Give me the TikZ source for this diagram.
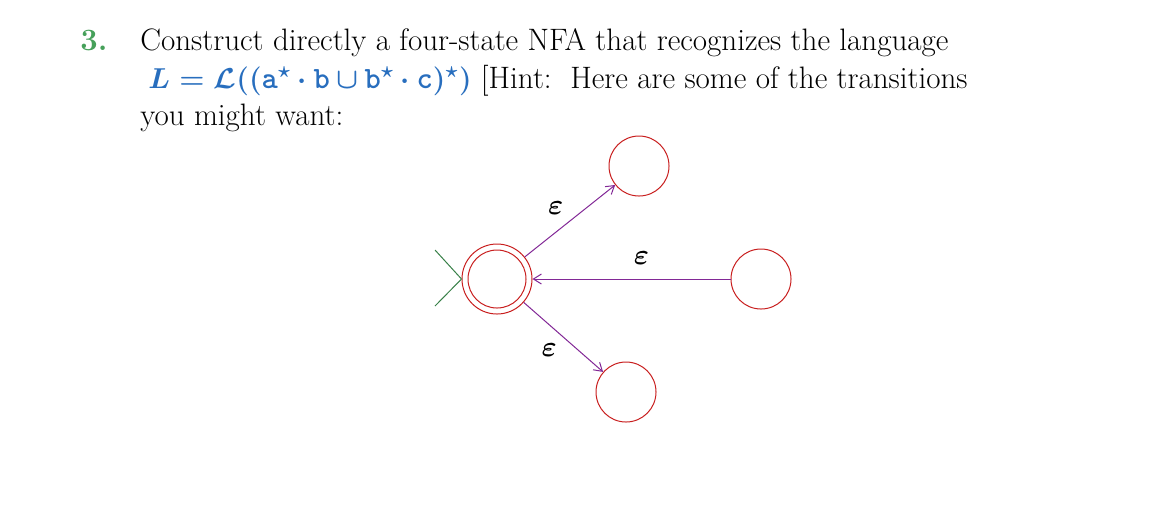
\documentclass[tikz,border=0pt]{standalone}
\usepackage{amsmath,amssymb}
\usetikzlibrary{arrows.meta}
\definecolor{grn}{RGB}{70,160,90}
\definecolor{blu}{RGB}{40,110,190}
\definecolor{stred}{RGB}{200,30,30}
\definecolor{purp}{RGB}{130,40,150}
\tikzset{state/.style={circle,draw=stred,line width=0.5pt,minimum size=30pt,inner sep=0pt},
 trans/.style={draw=purp,line width=0.5pt,-{Straight Barb[length=4pt,width=5pt]}},
 lbl/.style={font=\fontsize{15}{17}\selectfont}}
\newcommand{\formula}{\textcolor{blu}{$\boldsymbol{L=\mathcal{L}((}\texttt{\textbf{a}}^{\boldsymbol\star}\boldsymbol\cdot\texttt{\textbf{b}}\boldsymbol\cup\texttt{\textbf{b}}^{\boldsymbol\star}\boldsymbol\cdot\texttt{\textbf{c}}\boldsymbol{)^\star)}$}}
\begin{document}
\begin{tikzpicture}[x=0.5pt,y=-0.5pt]
\useasboundingbox (0,0) rectangle (1159,511);
\fontsize{15.5}{18.75}\selectfont
\node[anchor=base west,inner sep=0,text=grn,font=\bfseries\fontsize{15.5}{18.75}\selectfont] (n) at (80,50) {3.};
\node[anchor=base west,inner sep=0] (l1) at (140,50) {Construct directly a four-state NFA that recognizes the language};
\node[anchor=base west,inner sep=0] (l2) at (148,88) {\formula\ [Hint:\ \ Here are some of the transitions};
\node[anchor=base west,inner sep=0] (l3) at (140,125) {you might want:};
\node[state,minimum size=35pt] (s0) at (497,279) {};
\node[state,minimum size=29pt] (s0i) at (497,279) {};
\node[state] (s1) at (639,166) {};
\node[state] (s2) at (761,279) {};
\node[state] (s3) at (626,392) {};
\coordinate (g1) at (435,250);
\coordinate (g2) at (435,306);
\draw[grn!80!black,line width=0.5pt] (g1) -- (s0.west) -- (g2);
\draw[trans] (s0) -- (s1) node[lbl,pos=0.5,above left,inner sep=3pt] {$\boldsymbol\varepsilon$};
\draw[trans] (s2) -- (s0) node[lbl,pos=0.45,above=2pt] {$\boldsymbol\varepsilon$};
\draw[trans] (s0) -- (s3) node[lbl,pos=0.5,below left,inner sep=3pt] {$\boldsymbol\varepsilon$};
\end{tikzpicture}
\end{document}
